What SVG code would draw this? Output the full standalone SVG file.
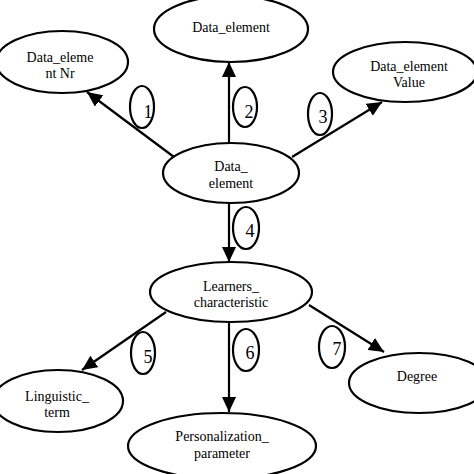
<svg xmlns="http://www.w3.org/2000/svg" width="474" height="474" viewBox="0 0 474 474">
<style>
.node{fill:#fff;stroke:#000;stroke-width:2.2}
.lbl{fill:#fff;stroke:#000;stroke-width:2.2}
.t{font-family:'Liberation Serif','DejaVu Serif',serif;font-size:14px;fill:#000;text-anchor:middle}
.n{font-family:'Liberation Serif','DejaVu Serif',serif;font-size:18px;fill:#000;text-anchor:middle}
.c{stroke:#000;stroke-width:2.2;fill:none;marker-end:url(#ah)}
</style>
<defs>
<marker id="ah" markerUnits="userSpaceOnUse" markerWidth="16" markerHeight="14" refX="15" refY="7" orient="auto">
<path d="M0,0 L15,7 L0,14 Z" fill="#000"/>
</marker>
</defs>
<rect width="474" height="474" fill="#fff"/>
<g id="connectors">
<line class="c" x1="174" y1="157" x2="87" y2="92"/>
<line class="c" x1="229" y1="143" x2="229" y2="62"/>
<line class="c" x1="292" y1="157" x2="382" y2="102"/>
<line class="c" x1="229" y1="203" x2="229" y2="262"/>
<line class="c" x1="166" y1="312" x2="82" y2="370"/>
<line class="c" x1="229" y1="322" x2="229" y2="412"/>
<line class="c" x1="309" y1="305" x2="384" y2="352"/>
</g>
<g font-family="Liberation Serif, DejaVu Serif, serif">
<g id="label1"><ellipse class="lbl" cx="142" cy="107" rx="12" ry="21"/><text class="n" x="148" y="118">1</text></g>
<g id="label2"><ellipse class="lbl" cx="245" cy="107" rx="12" ry="20"/><text class="n" x="249" y="118">2</text></g>
<g id="label3"><ellipse class="lbl" cx="320" cy="114" rx="12" ry="21"/><text class="n" x="323" y="123">3</text></g>
<g id="label4"><ellipse class="lbl" cx="246" cy="228" rx="13" ry="21"/><text class="n" x="250" y="237">4</text></g>
<g id="label5"><ellipse class="lbl" cx="143" cy="353" rx="12" ry="21"/><text class="n" x="148" y="363">5</text></g>
<g id="label6"><ellipse class="lbl" cx="246" cy="350" rx="13" ry="21"/><text class="n" x="250" y="359">6</text></g>
<g id="label7"><ellipse class="lbl" cx="332" cy="347" rx="13" ry="21"/><text class="n" x="337" y="355">7</text></g>
<g id="node-top"><ellipse class="node" cx="231" cy="29" rx="77" ry="33"/><text class="t" x="231" y="32">Data_element</text></g>
<g id="node-nr"><ellipse class="node" cx="62" cy="62" rx="66" ry="31"/><text class="t" x="60" y="62">Data_eleme</text><text class="t" x="60" y="78">nt  Nr</text></g>
<g id="node-value"><ellipse class="node" cx="405" cy="72" rx="72" ry="30"/><text class="t" x="409" y="71">Data_element</text><text class="t" x="409" y="87">Value</text></g>
<g id="node-center"><ellipse class="node" cx="231" cy="173" rx="68" ry="30"/><text class="t" x="231" y="171">Data_</text><text class="t" x="231" y="188">element</text></g>
<g id="node-learners"><ellipse class="node" cx="231" cy="292" rx="81" ry="30"/><text class="t" x="231" y="291">Learners_</text><text class="t" x="231" y="307">characteristic</text></g>
<g id="node-linguistic"><ellipse class="node" cx="58" cy="401" rx="65" ry="31"/><text class="t" x="57" y="401">Linguistic_</text><text class="t" x="57" y="417">term</text></g>
<g id="node-personalization"><ellipse class="node" cx="222" cy="446" rx="94" ry="33"/><text class="t" x="222" y="441">Personalization_</text><text class="t" x="222" y="458">parameter</text></g>
<g id="node-degree"><ellipse class="node" cx="419" cy="383" rx="70" ry="30"/><text class="t" x="417" y="381">Degree</text></g>
</g>
</svg>
